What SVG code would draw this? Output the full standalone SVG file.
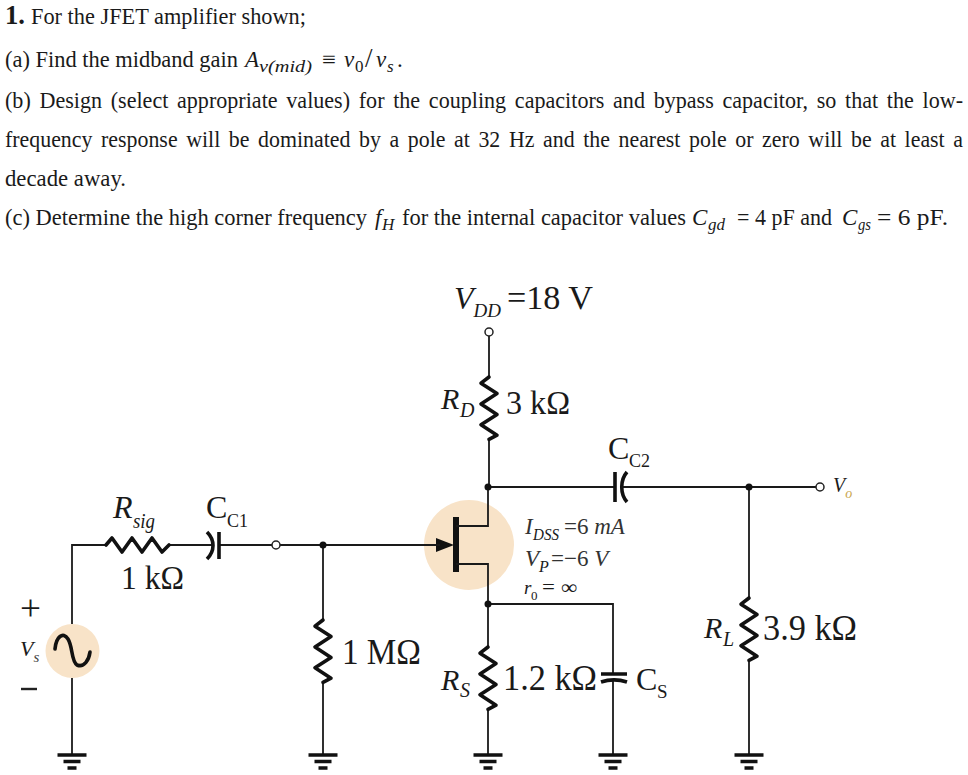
<svg xmlns="http://www.w3.org/2000/svg" width="968" height="775" viewBox="0 0 968 775">
<style>
text{font-family:"Liberation Serif","Times New Roman",serif;fill:#1a1a1a}
.q{font-size:23px}
.j{font-size:21px}
.i{font-style:italic}
.w{fill:none;stroke:#1a1a1a;stroke-width:1.800}
.r{fill:none;stroke:#111;stroke-width:3.600;stroke-linejoin:round;stroke-linecap:round}
.c{fill:none;stroke:#111;stroke-width:3.600}
.g{fill:none;stroke:#111;stroke-width:3.400}
.d{fill:#111}
.t{fill:#fff;stroke:#222;stroke-width:1.500}
.p{font-size:23px;fill:#333}
.m{font-size:17px}
</style>
<defs>
<g id="gnd"><path class="g" d="M-14.500 0H14.500M-8.500 6.500H8.500M-4.500 13H4.500"/></g>
<path id="rv" class="r" d="M0 0L-8 6.200L8 16.600L-8 27L8 37.400L-8 47.800L8 58.200L0 62.400"/>
</defs>
<g id="problem-text">
<text x="5" y="24" font-size="27" font-weight="bold" textLength="20" lengthAdjust="spacingAndGlyphs">1.</text>
<text class="q" x="31" y="24" textLength="275" lengthAdjust="spacingAndGlyphs">For the JFET amplifier shown;</text>
<text class="q" x="5" y="67" textLength="233" lengthAdjust="spacingAndGlyphs">(a) Find the midband gain</text>
<text class="q i" x="245" y="67">A</text>
<text class="m i" x="259" y="72" textLength="53" lengthAdjust="spacingAndGlyphs">v(mid)</text>
<text class="q" x="322" y="67" textLength="14" lengthAdjust="spacingAndGlyphs">≡</text>
<text class="q i" x="344" y="67">v</text>
<text class="m" x="355" y="72">0</text>
<text x="365" y="67" font-size="27">/</text>
<text class="q i" x="376" y="67">v</text>
<text class="m i" x="387" y="72">s</text>
<text class="q" x="397" y="67">.</text>
<text class="j" transform="translate(5 108) scale(1 1.100)" x="0" y="0" textLength="958" word-spacing="3" lengthAdjust="spacingAndGlyphs">(b) Design (select appropriate values) for the coupling capacitors and bypass capacitor, so that the low-</text>
<text class="j" transform="translate(5 147) scale(1 1.100)" x="0" y="0" textLength="958" word-spacing="3" lengthAdjust="spacingAndGlyphs">frequency response will be dominated by a pole at 32 Hz and the nearest pole or zero will be at least a</text>
<text class="q" x="5" y="186" textLength="121" lengthAdjust="spacingAndGlyphs">decade away.</text>
<text class="q" x="5" y="225" textLength="362" lengthAdjust="spacingAndGlyphs">(c) Determine the high corner frequency</text>
<text class="q i" x="375" y="225">f</text>
<text class="m i" x="382" y="230" font-size="15">H</text>
<text class="q" x="402" y="225" textLength="284" lengthAdjust="spacingAndGlyphs">for the internal capacitor values</text>
<text class="q i" x="692" y="225">C</text>
<text class="m i" x="708" y="230" textLength="17" lengthAdjust="spacingAndGlyphs">gd</text>
<text class="q" x="737" y="225" textLength="95" lengthAdjust="spacingAndGlyphs">= 4 pF and</text>
<text class="q i" x="842" y="225">C</text>
<text class="m i" x="858" y="230" textLength="13" lengthAdjust="spacingAndGlyphs">gs</text>
<text class="q" x="877" y="225" textLength="71" lengthAdjust="spacingAndGlyphs">= 6 pF.</text>
</g>
<g id="jfet">
<circle cx="469" cy="545" r="45" fill="#f8e3c8"/>
<path d="M456 517V572" stroke="#111" stroke-width="6"/>
<path d="M436 538L454 545L436 552Z" class="d"/>
</g>
<g id="source-vs">
<circle cx="72.500" cy="651" r="27" fill="#f8e3c8"/>
<path d="M55 649C56 637 63 631 68 639C73 647 71 661 77 665C84 668 89 660 90 652" fill="none" stroke="#111" stroke-width="3.600" stroke-linecap="round"/>
<text x="20" y="620" font-size="36" textLength="21" lengthAdjust="spacingAndGlyphs">+</text>
<text class="i" x="20" y="656" font-size="22" fill="#444">V<tspan font-size="15" dy="6" fill="#444">s</tspan></text>
<path d="M21 689H37" stroke="#222" stroke-width="2.400"/>
</g>
<g id="connectors">
<path class="w" d="M72 624V545H106M169 545H213M219 545H272M280 545H440M323 545V620M323 682V755"/>
<path class="w" d="M72 678V755"/>
<path class="w" d="M489 336V377M489 439V487M488 487V526H456M456 564H488V647M488 710V755"/>
<path class="w" d="M489 487H615M621 487H816M749 487V598M749 662V755"/>
<path class="w" d="M488 604H613V674M613 681V755"/>
</g>
<g id="r-sig">
<path class="r" d="M106 545L112 538L122 552L132 538L142 552L152 538L162 552L169 545"/>
<text class="i" x="113" y="518" font-size="32">R</text>
<text class="i" x="133" y="528" font-size="21" textLength="22" lengthAdjust="spacingAndGlyphs">sig</text>
<text x="121" y="589" font-size="33" textLength="63" lengthAdjust="spacingAndGlyphs">1 kΩ</text>
</g>
<g id="c-c1">
<path class="c" d="M219 532V559M207 532C215 540 215 551 207 559"/>
<text x="206" y="518" font-size="32">C</text>
<text x="227" y="527" font-size="19" textLength="21" lengthAdjust="spacingAndGlyphs">C1</text>
</g>
<g id="input-terminal"><circle class="t" cx="276" cy="545" r="4"/><circle class="d" cx="323" cy="545" r="3.500"/></g>
<g id="r-1m">
<use href="#rv" x="323" y="620"/>
<text x="342" y="664" font-size="36" textLength="79" lengthAdjust="spacingAndGlyphs">1 MΩ</text>
</g>
<g id="jfet-junctions">
<circle class="d" cx="488" cy="487" r="3.500"/>
<circle class="d" cx="488" cy="604" r="3.500"/>
</g>
<g id="jfet-params">
<text class="i p" x="525" y="534">I</text>
<text class="i" x="533" y="540" font-size="16" fill="#333" textLength="26" lengthAdjust="spacingAndGlyphs">DSS</text>
<text class="p" x="564" y="534">=6 <tspan class="i">mA</tspan></text>
<text class="i p" x="525" y="566">V</text>
<text class="i" x="539" y="572" font-size="16" fill="#333">P</text>
<text class="p" x="551" y="566">=−6 <tspan class="i">V</tspan></text>
<text class="i" x="524" y="594" font-size="19" fill="#333">r</text>
<text x="531" y="600" font-size="13" fill="#333">0</text>
<text x="542" y="594" font-size="20" fill="#333" textLength="35" lengthAdjust="spacingAndGlyphs">= ∞</text>
</g>
<g id="vdd">
<circle class="t" cx="489" cy="332" r="4"/>
<text class="i" x="454" y="309" font-size="32">V<tspan font-size="19" dy="8">DD</tspan></text>
<text x="507" y="309" font-size="33" textLength="86" lengthAdjust="spacingAndGlyphs">=18 V</text>
</g>
<g id="r-d">
<use href="#rv" x="489" y="377"/>
<text class="i" x="441" y="409" font-size="30">R</text>
<text class="i" x="460" y="417" font-size="20">D</text>
<text x="506" y="414" font-size="34" textLength="64" lengthAdjust="spacingAndGlyphs">3 kΩ</text>
</g>
<g id="c-c2">
<path class="c" d="M615 472V502M627 472C620 480 620 494 627 502"/>
<text x="608" y="459" font-size="32">C</text>
<text x="629" y="467" font-size="19" textLength="21" lengthAdjust="spacingAndGlyphs">C2</text>
</g>
<g id="output">
<circle class="d" cx="749" cy="487" r="3.500"/>
<circle class="t" cx="820" cy="487" r="4"/>
<text class="i" x="833" y="492" font-size="20" fill="#c9a64e">V<tspan font-size="14" dy="6" fill="#c9a64e">o</tspan></text>
</g>
<g id="r-l">
<use href="#rv" x="749" y="598"/>
<text class="i" x="704" y="638" font-size="30">R</text>
<text class="i" x="723" y="646" font-size="20">L</text>
<text x="763" y="640" font-size="35" textLength="94" lengthAdjust="spacingAndGlyphs">3.9 kΩ</text>
</g>
<g id="r-s">
<use href="#rv" x="488" y="647"/>
<text class="i" x="441" y="690" font-size="30">R</text>
<text class="i" x="460" y="697" font-size="20">S</text>
<text x="503" y="690" font-size="35" textLength="94" lengthAdjust="spacingAndGlyphs">1.2 kΩ</text>
</g>
<g id="c-s">
<path class="c" d="M601 674H627M601 682C610 679 618 679 627 682"/>
<text x="636" y="690" font-size="32">C</text>
<text x="657" y="698" font-size="19">S</text>
</g>
<g id="grounds">
<use href="#gnd" x="72" y="755"/>
<use href="#gnd" x="323" y="755"/>
<use href="#gnd" x="488" y="755"/>
<use href="#gnd" x="613" y="755"/>
<use href="#gnd" x="749" y="755"/>
</g>
</svg>
